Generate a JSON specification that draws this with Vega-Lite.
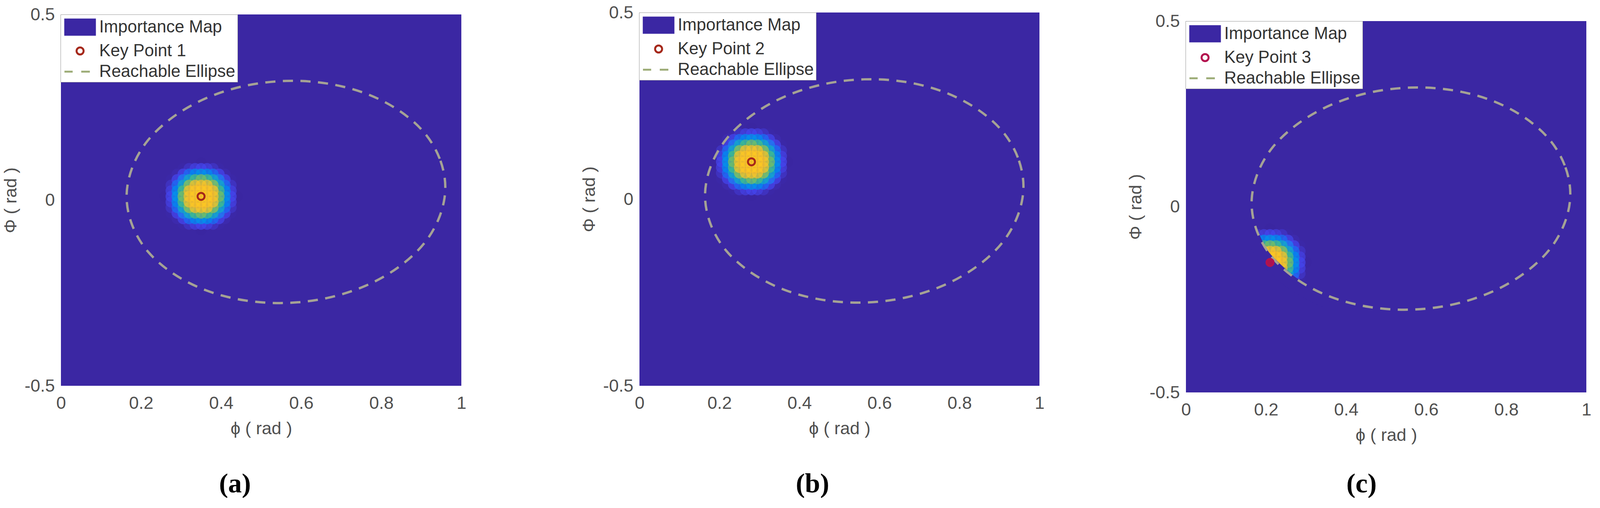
{
  "$schema": "https://vega.github.io/schema/vega-lite/v6.json",
  "padding": {"left": 5, "top": 10, "right": 0, "bottom": 0},
  "background": "white",
  "datasets": {
    "extent": [{"x": 0, "x2": 1, "y": -0.5, "y2": 0.5}],
    "ellipse": [
      {"t":0,"x":0.96,"y":0.0345},{"t":15,"x":0.946,"y":0.1115},{"t":30,"x":0.907,"y":0.1823},{"t":45,"x":0.843,"y":0.2422},
      {"t":60,"x":0.761,"y":0.2872},{"t":75,"x":0.665,"y":0.314},{"t":90,"x":0.562,"y":0.321},{"t":105,"x":0.459,"y":0.3076},
      {"t":120,"x":0.363,"y":0.2746},{"t":135,"x":0.281,"y":0.2246},{"t":150,"x":0.217,"y":0.1607},{"t":165,"x":0.178,"y":0.0873},
      {"t":180,"x":0.164,"y":0.0095},{"t":195,"x":0.178,"y":-0.0675},{"t":210,"x":0.217,"y":-0.1383},{"t":225,"x":0.281,"y":-0.1982},
      {"t":240,"x":0.363,"y":-0.2432},{"t":255,"x":0.459,"y":-0.27},{"t":270,"x":0.562,"y":-0.277},{"t":285,"x":0.665,"y":-0.2636},
      {"t":300,"x":0.761,"y":-0.2306},{"t":315,"x":0.843,"y":-0.1806},{"t":330,"x":0.907,"y":-0.1167},{"t":345,"x":0.946,"y":-0.0433}
    ],
    "heatA": [
      {"x":0.35,"y":-0.08,"z":0.037},
      {"x":0.305,"y":-0.065,"z":0.044},{"x":0.32,"y":-0.065,"z":0.07},{"x":0.335,"y":-0.065,"z":0.09},{"x":0.35,"y":-0.065,"z":0.1},{"x":0.365,"y":-0.065,"z":0.09},{"x":0.38,"y":-0.065,"z":0.07},{"x":0.395,"y":-0.065,"z":0.044},
      {"x":0.29,"y":-0.05,"z":0.05},{"x":0.305,"y":-0.05,"z":0.1},{"x":0.32,"y":-0.05,"z":0.16},{"x":0.335,"y":-0.05,"z":0.21},{"x":0.35,"y":-0.05,"z":0.23},{"x":0.365,"y":-0.05,"z":0.21},{"x":0.38,"y":-0.05,"z":0.16},{"x":0.395,"y":-0.05,"z":0.1},{"x":0.41,"y":-0.05,"z":0.05},
      {"x":0.275,"y":-0.035,"z":0.044},{"x":0.29,"y":-0.035,"z":0.1},{"x":0.305,"y":-0.035,"z":0.19},{"x":0.32,"y":-0.035,"z":0.3},{"x":0.335,"y":-0.035,"z":0.4},{"x":0.35,"y":-0.035,"z":0.44},{"x":0.365,"y":-0.035,"z":0.4},{"x":0.38,"y":-0.035,"z":0.3},{"x":0.395,"y":-0.035,"z":0.19},{"x":0.41,"y":-0.035,"z":0.1},{"x":0.425,"y":-0.035,"z":0.044},
      {"x":0.275,"y":-0.02,"z":0.07},{"x":0.29,"y":-0.02,"z":0.16},{"x":0.305,"y":-0.02,"z":0.3},{"x":0.32,"y":-0.02,"z":0.48},{"x":0.335,"y":-0.02,"z":0.63},{"x":0.35,"y":-0.02,"z":0.69},{"x":0.365,"y":-0.02,"z":0.63},{"x":0.38,"y":-0.02,"z":0.48},{"x":0.395,"y":-0.02,"z":0.3},{"x":0.41,"y":-0.02,"z":0.16},{"x":0.425,"y":-0.02,"z":0.07},
      {"x":0.275,"y":-0.005,"z":0.09},{"x":0.29,"y":-0.005,"z":0.21},{"x":0.305,"y":-0.005,"z":0.4},{"x":0.32,"y":-0.005,"z":0.63},{"x":0.335,"y":-0.005,"z":0.83},{"x":0.35,"y":-0.005,"z":0.91},{"x":0.365,"y":-0.005,"z":0.83},{"x":0.38,"y":-0.005,"z":0.63},{"x":0.395,"y":-0.005,"z":0.4},{"x":0.41,"y":-0.005,"z":0.21},{"x":0.425,"y":-0.005,"z":0.09},
      {"x":0.26,"y":0.01,"z":0.037},{"x":0.275,"y":0.01,"z":0.1},{"x":0.29,"y":0.01,"z":0.23},{"x":0.305,"y":0.01,"z":0.44},{"x":0.32,"y":0.01,"z":0.69},{"x":0.335,"y":0.01,"z":0.91},{"x":0.35,"y":0.01,"z":1},{"x":0.365,"y":0.01,"z":0.91},{"x":0.38,"y":0.01,"z":0.69},{"x":0.395,"y":0.01,"z":0.44},{"x":0.41,"y":0.01,"z":0.23},{"x":0.425,"y":0.01,"z":0.1},{"x":0.44,"y":0.01,"z":0.037},
      {"x":0.275,"y":0.025,"z":0.09},{"x":0.29,"y":0.025,"z":0.21},{"x":0.305,"y":0.025,"z":0.4},{"x":0.32,"y":0.025,"z":0.63},{"x":0.335,"y":0.025,"z":0.83},{"x":0.35,"y":0.025,"z":0.91},{"x":0.365,"y":0.025,"z":0.83},{"x":0.38,"y":0.025,"z":0.63},{"x":0.395,"y":0.025,"z":0.4},{"x":0.41,"y":0.025,"z":0.21},{"x":0.425,"y":0.025,"z":0.09},
      {"x":0.275,"y":0.04,"z":0.07},{"x":0.29,"y":0.04,"z":0.16},{"x":0.305,"y":0.04,"z":0.3},{"x":0.32,"y":0.04,"z":0.48},{"x":0.335,"y":0.04,"z":0.63},{"x":0.35,"y":0.04,"z":0.69},{"x":0.365,"y":0.04,"z":0.63},{"x":0.38,"y":0.04,"z":0.48},{"x":0.395,"y":0.04,"z":0.3},{"x":0.41,"y":0.04,"z":0.16},{"x":0.425,"y":0.04,"z":0.07},
      {"x":0.275,"y":0.055,"z":0.044},{"x":0.29,"y":0.055,"z":0.1},{"x":0.305,"y":0.055,"z":0.19},{"x":0.32,"y":0.055,"z":0.3},{"x":0.335,"y":0.055,"z":0.4},{"x":0.35,"y":0.055,"z":0.44},{"x":0.365,"y":0.055,"z":0.4},{"x":0.38,"y":0.055,"z":0.3},{"x":0.395,"y":0.055,"z":0.19},{"x":0.41,"y":0.055,"z":0.1},{"x":0.425,"y":0.055,"z":0.044},
      {"x":0.29,"y":0.07,"z":0.05},{"x":0.305,"y":0.07,"z":0.1},{"x":0.32,"y":0.07,"z":0.16},{"x":0.335,"y":0.07,"z":0.21},{"x":0.35,"y":0.07,"z":0.23},{"x":0.365,"y":0.07,"z":0.21},{"x":0.38,"y":0.07,"z":0.16},{"x":0.395,"y":0.07,"z":0.1},{"x":0.41,"y":0.07,"z":0.05},
      {"x":0.305,"y":0.085,"z":0.044},{"x":0.32,"y":0.085,"z":0.07},{"x":0.335,"y":0.085,"z":0.09},{"x":0.35,"y":0.085,"z":0.1},{"x":0.365,"y":0.085,"z":0.09},{"x":0.38,"y":0.085,"z":0.07},{"x":0.395,"y":0.085,"z":0.044},
      {"x":0.35,"y":0.1,"z":0.037}
    ],
    "heatB": [
      {"x":0.28,"y":0.01,"z":0.037},
      {"x":0.235,"y":0.025,"z":0.044},{"x":0.25,"y":0.025,"z":0.07},{"x":0.265,"y":0.025,"z":0.09},{"x":0.28,"y":0.025,"z":0.1},{"x":0.295,"y":0.025,"z":0.09},{"x":0.31,"y":0.025,"z":0.07},{"x":0.325,"y":0.025,"z":0.044},
      {"x":0.22,"y":0.04,"z":0.05},{"x":0.235,"y":0.04,"z":0.1},{"x":0.25,"y":0.04,"z":0.16},{"x":0.265,"y":0.04,"z":0.21},{"x":0.28,"y":0.04,"z":0.23},{"x":0.295,"y":0.04,"z":0.21},{"x":0.31,"y":0.04,"z":0.16},{"x":0.325,"y":0.04,"z":0.1},{"x":0.34,"y":0.04,"z":0.05},
      {"x":0.205,"y":0.055,"z":0.044},{"x":0.22,"y":0.055,"z":0.1},{"x":0.235,"y":0.055,"z":0.19},{"x":0.25,"y":0.055,"z":0.3},{"x":0.265,"y":0.055,"z":0.4},{"x":0.28,"y":0.055,"z":0.44},{"x":0.295,"y":0.055,"z":0.4},{"x":0.31,"y":0.055,"z":0.3},{"x":0.325,"y":0.055,"z":0.19},{"x":0.34,"y":0.055,"z":0.1},{"x":0.355,"y":0.055,"z":0.044},
      {"x":0.205,"y":0.07,"z":0.07},{"x":0.22,"y":0.07,"z":0.16},{"x":0.235,"y":0.07,"z":0.3},{"x":0.25,"y":0.07,"z":0.48},{"x":0.265,"y":0.07,"z":0.63},{"x":0.28,"y":0.07,"z":0.69},{"x":0.295,"y":0.07,"z":0.63},{"x":0.31,"y":0.07,"z":0.48},{"x":0.325,"y":0.07,"z":0.3},{"x":0.34,"y":0.07,"z":0.16},{"x":0.355,"y":0.07,"z":0.07},
      {"x":0.205,"y":0.085,"z":0.09},{"x":0.22,"y":0.085,"z":0.21},{"x":0.235,"y":0.085,"z":0.4},{"x":0.25,"y":0.085,"z":0.63},{"x":0.265,"y":0.085,"z":0.83},{"x":0.28,"y":0.085,"z":0.91},{"x":0.295,"y":0.085,"z":0.83},{"x":0.31,"y":0.085,"z":0.63},{"x":0.325,"y":0.085,"z":0.4},{"x":0.34,"y":0.085,"z":0.21},{"x":0.355,"y":0.085,"z":0.09},
      {"x":0.19,"y":0.1,"z":0.037},{"x":0.205,"y":0.1,"z":0.1},{"x":0.22,"y":0.1,"z":0.23},{"x":0.235,"y":0.1,"z":0.44},{"x":0.25,"y":0.1,"z":0.69},{"x":0.265,"y":0.1,"z":0.91},{"x":0.28,"y":0.1,"z":1},{"x":0.295,"y":0.1,"z":0.91},{"x":0.31,"y":0.1,"z":0.69},{"x":0.325,"y":0.1,"z":0.44},{"x":0.34,"y":0.1,"z":0.23},{"x":0.355,"y":0.1,"z":0.1},{"x":0.37,"y":0.1,"z":0.037},
      {"x":0.205,"y":0.115,"z":0.09},{"x":0.22,"y":0.115,"z":0.21},{"x":0.235,"y":0.115,"z":0.4},{"x":0.25,"y":0.115,"z":0.63},{"x":0.265,"y":0.115,"z":0.83},{"x":0.28,"y":0.115,"z":0.91},{"x":0.295,"y":0.115,"z":0.83},{"x":0.31,"y":0.115,"z":0.63},{"x":0.325,"y":0.115,"z":0.4},{"x":0.34,"y":0.115,"z":0.21},{"x":0.355,"y":0.115,"z":0.09},
      {"x":0.205,"y":0.13,"z":0.07},{"x":0.22,"y":0.13,"z":0.16},{"x":0.235,"y":0.13,"z":0.3},{"x":0.25,"y":0.13,"z":0.48},{"x":0.265,"y":0.13,"z":0.63},{"x":0.28,"y":0.13,"z":0.69},{"x":0.295,"y":0.13,"z":0.63},{"x":0.31,"y":0.13,"z":0.48},{"x":0.325,"y":0.13,"z":0.3},{"x":0.34,"y":0.13,"z":0.16},{"x":0.355,"y":0.13,"z":0.07},
      {"x":0.22,"y":0.145,"z":0.1},{"x":0.235,"y":0.145,"z":0.19},{"x":0.25,"y":0.145,"z":0.3},{"x":0.265,"y":0.145,"z":0.4},{"x":0.28,"y":0.145,"z":0.44},{"x":0.295,"y":0.145,"z":0.4},{"x":0.31,"y":0.145,"z":0.3},{"x":0.325,"y":0.145,"z":0.19},{"x":0.34,"y":0.145,"z":0.1},{"x":0.355,"y":0.145,"z":0.044},
      {"x":0.22,"y":0.16,"z":0.05},{"x":0.235,"y":0.16,"z":0.1},{"x":0.25,"y":0.16,"z":0.16},{"x":0.265,"y":0.16,"z":0.21},{"x":0.28,"y":0.16,"z":0.23},{"x":0.295,"y":0.16,"z":0.21},{"x":0.31,"y":0.16,"z":0.16},{"x":0.325,"y":0.16,"z":0.1},{"x":0.34,"y":0.16,"z":0.05},
      {"x":0.235,"y":0.175,"z":0.044},{"x":0.25,"y":0.175,"z":0.07},{"x":0.265,"y":0.175,"z":0.09},{"x":0.28,"y":0.175,"z":0.1},{"x":0.295,"y":0.175,"z":0.09},{"x":0.31,"y":0.175,"z":0.07},{"x":0.325,"y":0.175,"z":0.044},
      {"x":0.28,"y":0.19,"z":0.037}
    ],
    "heatC": [
      {"x":0.27,"y":-0.195,"z":0.1},{"x":0.285,"y":-0.195,"z":0.044},
      {"x":0.255,"y":-0.18,"z":0.3},{"x":0.27,"y":-0.18,"z":0.16},{"x":0.285,"y":-0.18,"z":0.07},
      {"x":0.24,"y":-0.165,"z":0.63},{"x":0.255,"y":-0.165,"z":0.4},{"x":0.27,"y":-0.165,"z":0.21},{"x":0.285,"y":-0.165,"z":0.09},
      {"x":0.225,"y":-0.15,"z":0.91},{"x":0.24,"y":-0.15,"z":0.69},{"x":0.255,"y":-0.15,"z":0.44},{"x":0.27,"y":-0.15,"z":0.23},{"x":0.285,"y":-0.15,"z":0.1},{"x":0.3,"y":-0.15,"z":0.037},
      {"x":0.21,"y":-0.135,"z":0.91},{"x":0.225,"y":-0.135,"z":0.83},{"x":0.24,"y":-0.135,"z":0.63},{"x":0.255,"y":-0.135,"z":0.4},{"x":0.27,"y":-0.135,"z":0.21},{"x":0.285,"y":-0.135,"z":0.09},
      {"x":0.195,"y":-0.12,"z":0.63},{"x":0.21,"y":-0.12,"z":0.69},{"x":0.225,"y":-0.12,"z":0.63},{"x":0.24,"y":-0.12,"z":0.48},{"x":0.255,"y":-0.12,"z":0.3},{"x":0.27,"y":-0.12,"z":0.16},{"x":0.285,"y":-0.12,"z":0.07},
      {"x":0.18,"y":-0.105,"z":0.3},{"x":0.195,"y":-0.105,"z":0.4},{"x":0.21,"y":-0.105,"z":0.44},{"x":0.225,"y":-0.105,"z":0.4},{"x":0.24,"y":-0.105,"z":0.3},{"x":0.255,"y":-0.105,"z":0.19},{"x":0.27,"y":-0.105,"z":0.1},{"x":0.285,"y":-0.105,"z":0.044},
      {"x":0.18,"y":-0.09,"z":0.16},{"x":0.195,"y":-0.09,"z":0.21},{"x":0.21,"y":-0.09,"z":0.23},{"x":0.225,"y":-0.09,"z":0.21},{"x":0.24,"y":-0.09,"z":0.16},{"x":0.255,"y":-0.09,"z":0.1},{"x":0.27,"y":-0.09,"z":0.05},
      {"x":0.18,"y":-0.075,"z":0.07},{"x":0.195,"y":-0.075,"z":0.09},{"x":0.21,"y":-0.075,"z":0.1},{"x":0.225,"y":-0.075,"z":0.09},{"x":0.24,"y":-0.075,"z":0.07},{"x":0.255,"y":-0.075,"z":0.044},
      {"x":0.21,"y":-0.06,"z":0.037}
    ],
    "maskC": [
      {"x":0.154,"y":-0.032},{"x":0.165,"y":-0.073},{"x":0.182,"y":-0.112},{"x":0.206,"y":-0.148},{"x":0.2725,"y":-0.2108},{"x":0.357,"y":-0.258}
    ]
  },
  "spacing": 211,
  "resolve": {"scale": {"color": "independent", "fill": "independent", "stroke": "independent", "shape": "independent"}},
  "hconcat": [
    {
      "spacing": 292,
      "resolve": {"scale": {"color": "independent", "fill": "independent", "stroke": "independent", "shape": "independent"}},
      "hconcat": [
        {
          "width": 1025,
          "height": 991,
          "title": {"text": "(a)", "orient": "bottom", "anchor": "middle", "dx": -67, "offset": 86, "font": "Liberation Serif", "fontWeight": "bold", "fontSize": 70, "color": "black"},
          "encoding": {
            "x": {"field": "x", "type": "quantitative", "scale": {"domain": [0, 1]}, "axis": {"title": "ϕ ( rad )", "values": [0, 0.2, 0.4, 0.6, 0.8, 1], "offset": -17, "labelFlush": false, "labelExpr": "toString(datum.value)"}},
            "y": {"field": "y", "type": "quantitative", "scale": {"domain": [-0.5, 0.5], "range": [974, 23]}, "axis": {"title": "Φ ( rad )", "values": [-0.5, 0, 0.5], "labelExpr": "toString(datum.value)"}}
          },
          "layer": [
            {"data": {"name": "extent"}, "mark": {"type": "rect", "color": "#3b27a3"}, "encoding": {"x2": {"field": "x2"}, "y2": {"field": "y2"}}},
            {"data": {"name": "heatA"}, "mark": {"type": "circle", "size": 800, "opacity": 0.7}, "encoding": {"order": {"field": "z"}, "color": {"field": "z", "type": "quantitative", "legend": null, "scale": {"domain": [0.04, 0.1, 0.2, 0.3, 0.44, 0.6, 1], "range": ["#3b27a3", "#4446f0", "#2186f2", "#12aec4", "#7cc060", "#f8c32a", "#ffc81f"]}}}},
            {"data": {"name": "ellipse"}, "mark": {"type": "line", "interpolate": "cardinal-closed", "color": "#a5a295", "strokeWidth": 6, "strokeDash": [26, 19]}, "encoding": {"order": {"field": "t"}}},
            {
              "data": {"values": [{"x": 0.35, "y": 0.01, "series": "Key Point 1"}]},
              "mark": {"type": "point", "size": 2500, "strokeWidth": 5, "opacity": 1, "xOffset": -17.5},
              "encoding": {
                "shape": {"field": "series", "type": "nominal", "scale": {"domain": ["Importance Map", "Key Point 1", "Reachable Ellipse"], "range": ["M-0.82,-0.78H2.22V0.78H-0.82Z", "M0.34,0A0.36,0.36 0 1,1 1.06,0A0.36,0.36 0 1,1 0.34,0Z", "M-0.9,0H-0.06M0.82,0H1.7"]}, "legend": {"title": null, "orient": "none", "legendX": -1, "legendY": 23, "fillColor": "white", "strokeColor": "#999999", "padding": 5, "labelOffset": 39, "rowPadding": 4, "symbolStrokeWidth": 5, "symbolSize": 2500}},
                "fill": {"field": "series", "type": "nominal", "scale": {"domain": ["Importance Map", "Key Point 1", "Reachable Ellipse"], "range": ["#3b27a3", "transparent", "transparent"]}},
                "stroke": {"field": "series", "type": "nominal", "scale": {"domain": ["Importance Map", "Key Point 1", "Reachable Ellipse"], "range": ["#3b27a3", "#a5281a", "#9fae7a"]}}
              }
            }
          ]
        },
        {
          "width": 1024,
          "height": 991,
          "title": {"text": "(b)", "orient": "bottom", "anchor": "middle", "dx": -69, "offset": 86, "font": "Liberation Serif", "fontWeight": "bold", "fontSize": 70, "color": "black"},
          "encoding": {
            "x": {"field": "x", "type": "quantitative", "scale": {"domain": [0, 1]}, "axis": {"title": "ϕ ( rad )", "values": [0, 0.2, 0.4, 0.6, 0.8, 1], "offset": -17, "labelFlush": false, "labelExpr": "toString(datum.value)"}},
            "y": {"field": "y", "type": "quantitative", "scale": {"domain": [-0.5, 0.5], "range": [974, 18]}, "axis": {"title": "Φ ( rad )", "values": [-0.5, 0, 0.5], "labelExpr": "toString(datum.value)"}}
          },
          "layer": [
            {"data": {"name": "extent"}, "mark": {"type": "rect", "color": "#3b27a3"}, "encoding": {"x2": {"field": "x2"}, "y2": {"field": "y2"}}},
            {"data": {"name": "heatB"}, "mark": {"type": "circle", "size": 800, "opacity": 0.7}, "encoding": {"order": {"field": "z"}, "color": {"field": "z", "type": "quantitative", "legend": null, "scale": {"domain": [0.04, 0.1, 0.2, 0.3, 0.44, 0.6, 1], "range": ["#3b27a3", "#4446f0", "#2186f2", "#12aec4", "#7cc060", "#f8c32a", "#ffc81f"]}}}},
            {"data": {"name": "ellipse"}, "mark": {"type": "line", "interpolate": "cardinal-closed", "color": "#a5a295", "strokeWidth": 6, "strokeDash": [26, 19]}, "encoding": {"order": {"field": "t"}}},
            {
              "data": {"values": [{"x": 0.28, "y": 0.1, "series": "Key Point 2"}]},
              "mark": {"type": "point", "size": 2500, "strokeWidth": 5, "opacity": 1, "xOffset": -17.5},
              "encoding": {
                "shape": {"field": "series", "type": "nominal", "scale": {"domain": ["Importance Map", "Key Point 2", "Reachable Ellipse"], "range": ["M-0.82,-0.78H2.22V0.78H-0.82Z", "M0.34,0A0.36,0.36 0 1,1 1.06,0A0.36,0.36 0 1,1 0.34,0Z", "M-0.9,0H-0.06M0.82,0H1.7"]}, "legend": {"title": null, "orient": "none", "legendX": -1, "legendY": 18, "fillColor": "white", "strokeColor": "#999999", "padding": 5, "labelOffset": 39, "rowPadding": 4, "symbolStrokeWidth": 5, "symbolSize": 2500}},
                "fill": {"field": "series", "type": "nominal", "scale": {"domain": ["Importance Map", "Key Point 2", "Reachable Ellipse"], "range": ["#3b27a3", "transparent", "transparent"]}},
                "stroke": {"field": "series", "type": "nominal", "scale": {"domain": ["Importance Map", "Key Point 2", "Reachable Ellipse"], "range": ["#3b27a3", "#a5281a", "#9fae7a"]}}
              }
            }
          ]
        }
      ]
    },
    {
      "width": 1025,
      "height": 991,
      "title": {"text": "(c)", "orient": "bottom", "anchor": "middle", "dx": -63, "offset": 69, "font": "Liberation Serif", "fontWeight": "bold", "fontSize": 70, "color": "black"},
      "encoding": {
        "x": {"field": "x", "type": "quantitative", "scale": {"domain": [0, 1]}, "axis": {"title": "ϕ ( rad )", "values": [0, 0.2, 0.4, 0.6, 0.8, 1], "labelFlush": false, "labelExpr": "toString(datum.value)"}},
        "y": {"field": "y", "type": "quantitative", "scale": {"domain": [-0.5, 0.5], "range": [991, 40]}, "axis": {"title": "Φ ( rad )", "values": [-0.5, 0, 0.5], "labelExpr": "toString(datum.value)"}}
      },
      "layer": [
        {"data": {"name": "extent"}, "mark": {"type": "rect", "color": "#3b27a3"}, "encoding": {"x2": {"field": "x2"}, "y2": {"field": "y2"}}},
        {"data": {"name": "heatC"}, "mark": {"type": "circle", "size": 800, "opacity": 0.7}, "encoding": {"order": {"field": "z"}, "color": {"field": "z", "type": "quantitative", "legend": null, "scale": {"domain": [0.04, 0.1, 0.2, 0.3, 0.44, 0.6, 1], "range": ["#3b27a3", "#4446f0", "#2186f2", "#12aec4", "#7cc060", "#f8c32a", "#ffc81f"]}}}},
        {"data": {"name": "maskC"}, "mark": {"type": "line", "interpolate": "cardinal", "color": "#3b27a3", "strokeWidth": 34}},
        {"data": {"name": "ellipse"}, "mark": {"type": "line", "interpolate": "cardinal-closed", "color": "#a5a295", "strokeWidth": 6, "strokeDash": [26, 19]}, "encoding": {"order": {"field": "t"}}},
        {"data": {"values": [{"x": 0.21, "y": -0.15}]}, "mark": {"type": "circle", "size": 350, "color": "#ab1350", "opacity": 1}},
        {
          "data": {"values": [{"x": 0.21, "y": -0.15, "series": "Key Point 3"}]},
          "mark": {"type": "point", "size": 2500, "strokeWidth": 5, "opacity": 1, "xOffset": -17.5},
          "encoding": {
            "shape": {"field": "series", "type": "nominal", "scale": {"domain": ["Importance Map", "Key Point 3", "Reachable Ellipse"], "range": ["M-0.82,-0.78H2.22V0.78H-0.82Z", "M0.34,0A0.36,0.36 0 1,1 1.06,0A0.36,0.36 0 1,1 0.34,0Z", "M-0.9,0H-0.06M0.82,0H1.7"]}, "legend": {"title": null, "orient": "none", "legendX": -1, "legendY": 40, "fillColor": "white", "strokeColor": "#999999", "padding": 5, "labelOffset": 39, "rowPadding": 4, "symbolStrokeWidth": 5, "symbolSize": 2500}},
            "fill": {"field": "series", "type": "nominal", "scale": {"domain": ["Importance Map", "Key Point 3", "Reachable Ellipse"], "range": ["#3b27a3", "transparent", "transparent"]}},
            "stroke": {"field": "series", "type": "nominal", "scale": {"domain": ["Importance Map", "Key Point 3", "Reachable Ellipse"], "range": ["#3b27a3", "#b3124e", "#9fae7a"]}}
          }
        }
      ]
    }
  ],
  "config": {
    "view": {"stroke": null},
    "font": "Liberation Sans",
    "axis": {
      "grid": false,
      "domain": false,
      "ticks": false,
      "labelFontSize": 45,
      "titleFontSize": 45,
      "titleFontWeight": "normal",
      "labelColor": "#505050",
      "titleColor": "#505050"
    },
    "axisX": {"labelPadding": 22, "titlePadding": 20},
    "axisY": {"labelPadding": 16, "titlePadding": 12},
    "legend": {"labelFontSize": 43.5, "labelColor": "#333333", "labelLimit": 500}
  }
}
